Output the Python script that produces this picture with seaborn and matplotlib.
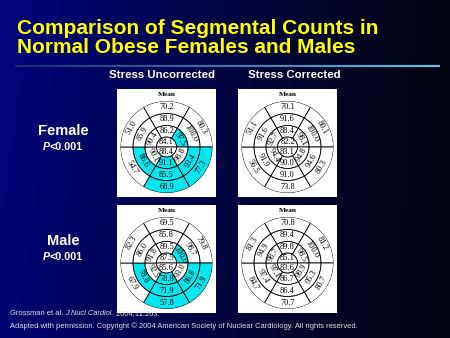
import numpy as np
import matplotlib
matplotlib.use("Agg")
import matplotlib.pyplot as plt
import seaborn as sns
from matplotlib.collections import LineCollection

# ---------------- data ----------------
# segment order in each ring: top, upper-right, lower-right, bottom, lower-left, upper-left
female_uncorr_apex = [84.1, 88.4]
female_uncorr_apical = [86.2, 97.5, 98.8, 91.1, 90.1, 90.4]
female_uncorr_mid = [88.9, 100.0, 93.4, 85.5, 86.6, 85.9]
female_uncorr_basal = [70.2, 80.3, 77.3, 68.9, 54.7, 51.0]

female_corr_apex = [82.2, 83.1]
female_corr_apical = [88.4, 98.1, 94.8, 90.0, 94.4, 92.7]
female_corr_mid = [91.6, 100.0, 94.6, 91.0, 91.9, 91.6]
female_corr_basal = [70.1, 80.1, 80.3, 73.8, 56.5, 51.1]

male_uncorr_apex = [87.5, 85.6]
male_uncorr_apical = [89.5, 100.0, 93.0, 78.8, 92.5, 91.8]
male_uncorr_mid = [85.8, 98.7, 86.8, 71.9, 78.8, 86.0]
male_uncorr_basal = [69.5, 79.8, 71.9, 57.8, 67.9, 82.3]

male_corr_apex = [85.1, 83.6]
male_corr_apical = [89.8, 98.5, 98.9, 86.7, 97.1, 98.7]
male_corr_mid = [89.4, 100.0, 95.3, 86.4, 97.4, 94.9]
male_corr_basal = [70.8, 81.2, 80.7, 70.7, 84.7, 81.3]

# highlighted (significantly reduced) segments, 1 = highlighted
uncorr_flag_apex = [0, 0]
uncorr_flag_apical = [0, 1, 0, 1, 0, 0]
uncorr_flag_mid = [0, 0, 1, 1, 1, 0]
uncorr_flag_basal = [0, 0, 1, 1, 0, 0]
corr_flag_apex = [0, 0]
corr_flag_apical = [0, 0, 0, 0, 0, 0]
corr_flag_mid = [0, 0, 0, 0, 0, 0]
corr_flag_basal = [0, 0, 0, 0, 0, 0]

column_labels = ["Stress Uncorrected", "Stress Corrected"]
row_labels = ["Female", "Male"]
row_pvalues = ["<0.001", "<0.001"]
title_lines = ["Comparison of Segmental Counts in", "Normal Obese Females and Males"]
citation_parts = ["Grossman et al. ", "J Nucl Cardiol.", " 2004;11:263."]
permission_line = ("Adapted with permission. Copyright \u00a9 2004 American Society of "
                   "Nuclear Cardiology. All rights reserved.")

# ---------------- style ----------------
sns.set_theme(style="white")
plt.rcParams["font.family"] = ["Liberation Sans", "DejaVu Sans"]

W, H = 450, 338
fig = plt.figure(figsize=(W / 100, H / 100), dpi=100)


def fx(px):
    return px / W


def fy(py):
    return 1 - py / H


# background gradient
bg = fig.add_axes([0, 0, 1, 1])
bg.set_xlim(0, W)
bg.set_ylim(H, 0)
bg.set_axis_off()
xx = np.linspace(0, 1, W)[None, :]
yy = np.linspace(0, 1, H)[:, None]
blue = 16 + 112 * (1 - xx) ** 1.15 * (1 - 0.12 * yy)
img = np.zeros((H, W, 3))
img[..., 2] = blue / 255
img[..., 0] = 2 / 255
img[..., 1] = 4 / 255
bg.imshow(img, extent=(0, W, H, 0), aspect="auto", zorder=0)

# rule under the title
xs = np.linspace(15, 440, 120)
segs = [[(xs[i], 66), (xs[i + 1], 66)] for i in range(len(xs) - 1)]
cols = [(0.12 + 0.13 * t, 0.18 + 0.67 * t, 0.42 + 0.58 * t) for t in np.linspace(0, 1, len(segs))]
bg.add_collection(LineCollection(segs, colors=cols, linewidths=1.4, zorder=2))

# title
fig.text(fx(17), fy(34), title_lines[0], color="#ffff00", fontsize=15,
         fontweight="bold", va="baseline", ha="left")
fig.text(fx(17), fy(53), title_lines[1], color="#ffff00", fontsize=15,
         fontweight="bold", va="baseline", ha="left")

# column headers
for cx, lab in zip([162, 294], column_labels):
    fig.text(fx(cx), fy(78), lab, color="white", fontsize=8.2, fontweight="bold",
             ha="center", va="baseline")

# row labels
for cy, lab, pv in zip([135, 245], row_labels, row_pvalues):
    fig.text(fx(63), fy(cy), lab, color="white", fontsize=10.5, fontweight="bold",
             ha="center", va="baseline")
    fig.text(fx(50), fy(cy + 15), "P", color="white", fontsize=7.7, fontweight="bold",
             style="italic", ha="right", va="baseline")
    fig.text(fx(50), fy(cy + 15), pv, color="white", fontsize=7.7, fontweight="bold",
             ha="left", va="baseline")

CYAN = "#08e6f0"
RADII = [0, 0.22, 0.47, 0.73, 1.0]


def draw_bullseye(x0, y0, apex, apical, mid, basal, f_apex, f_apical, f_mid, f_basal):
    bw, bh = 99, 108
    box = fig.add_axes([fx(x0), fy(y0 + bh), bw / W, bh / H])
    box.set_facecolor("white")
    box.set_xticks([])
    box.set_yticks([])
    for s in box.spines.values():
        s.set_visible(False)
    box.text(0.5, 1 - 5.5 / bh, "Mean", transform=box.transAxes, ha="center", va="center",
             fontsize=5.3, fontweight="bold", family=["Liberation Serif", "DejaVu Serif"], color="black")

    R = 46
    cx, cy = x0 + bw / 2, y0 + 58
    pax = fig.add_axes([fx(cx - R), fy(cy + R), 2 * R / W, 2 * R / H], projection="polar")
    pax.set_ylim(0, 1)
    pax.set_axis_off()
    pax.patch.set_alpha(0)

    tkw = dict(ha="center", va="center", fontsize=6, color="black",
               family=["Liberation Serif", "DejaVu Serif"])
    # apex: two halves
    th_apex = np.deg2rad([90, 270])
    pax.bar(th_apex, [RADII[1]] * 2, width=np.pi, bottom=0,
            color=[CYAN if f else "white" for f in f_apex], edgecolor="black", linewidth=0.6)
    for t, v in zip(th_apex, apex):
        pax.text(t, RADII[1] * 0.5, f"{v:.1f}", **tkw)

    rings = [(apical, f_apical), (mid, f_mid), (basal, f_basal)]
    for k, (vals, flags) in enumerate(rings):
        r0, r1 = RADII[k + 1], RADII[k + 2]
        degs = np.array([90 - 60 * i for i in range(len(vals))], dtype=float)
        th = np.deg2rad(degs)
        pax.bar(th, [r1 - r0] * len(vals), width=np.pi / 3, bottom=r0,
                color=[CYAN if f else "white" for f in flags], edgecolor="black", linewidth=0.6)
        for d, t, v in zip(degs, th, vals):
            rot = (d - 90) % 360
            if rot > 90 and rot <= 270:
                rot -= 180
            if rot > 180:
                rot -= 360
            pax.text(t, (r0 + r1) / 2, f"{v:.1f}", rotation=rot, rotation_mode="anchor", **tkw)


draw_bullseye(117, 89, female_uncorr_apex, female_uncorr_apical, female_uncorr_mid, female_uncorr_basal,
              uncorr_flag_apex, uncorr_flag_apical, uncorr_flag_mid, uncorr_flag_basal)
draw_bullseye(238, 89, female_corr_apex, female_corr_apical, female_corr_mid, female_corr_basal,
              corr_flag_apex, corr_flag_apical, corr_flag_mid, corr_flag_basal)
draw_bullseye(117, 205, male_uncorr_apex, male_uncorr_apical, male_uncorr_mid, male_uncorr_basal,
              uncorr_flag_apex, uncorr_flag_apical, uncorr_flag_mid, uncorr_flag_basal)
draw_bullseye(238, 205, male_corr_apex, male_corr_apical, male_corr_mid, male_corr_basal,
              corr_flag_apex, corr_flag_apical, corr_flag_mid, corr_flag_basal)

# citation (pieces laid out left to right on a common baseline)
CITE = "#e0e0e0"
CFS = 5.4
renderer = fig.canvas.get_renderer()
xpix = 10
for part, sty in zip(citation_parts, ["normal", "italic", "normal"]):
    t = fig.text(fx(xpix), fy(315), part, ha="left", va="baseline", color=CITE,
                 fontsize=CFS, style=sty)
    ext = t.get_window_extent(renderer=renderer)
    xpix += ext.width
fig.text(fx(10), fy(328), permission_line, ha="left", va="baseline", color=CITE, fontsize=CFS)

fig.savefig("out.png", dpi=100)
